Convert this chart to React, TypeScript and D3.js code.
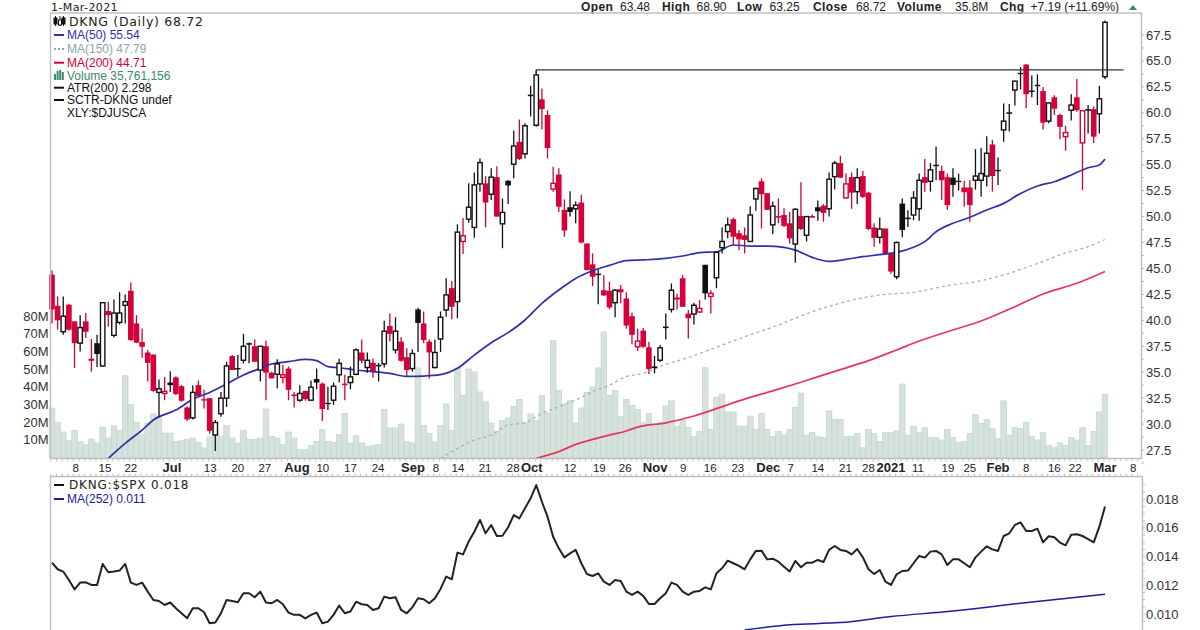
import * as d3 from "d3";

// daily candles, 2-Jun-2020 to 1-Mar-2021
const opens = [
  44.4,41.4,38.9,41.5,39.9,37.8,39.9,36.3,37.8,35.6,
  40.9,38.55,39.8,41.45,42.85,39.7,37.9,36.9,36.7,33.05,
  32.95,34.0,34.5,33.65,31.6,30.6,33.75,32.4,32.5,28.95,
  31.0,32.5,36.55,35.4,36.15,37.8,37.5,35.2,37.5,34.95,
  34.8,34.5,35.35,32.85,32.3,33.2,32.3,34.35,33.9,32.05,
  32.3,34.75,33.9,34.0,34.8,36.9,35.45,35.9,35.7,35.8,
  39.45,37.15,37.95,36.45,35.35,41.05,39.7,37.95,35.45,38.2,
  41.0,43.1,41.8,47.6,49.75,48.95,53.15,53.2,52.15,53.8,
  49.3,53.45,55.05,57.2,56.05,61.75,58.8,61.3,59.8,52.65,
  54.05,50.65,50.9,50.75,51.35,47.4,45.4,44.5,42.9,42.85,
  41.7,43.0,42.1,40.4,37.45,39.0,37.4,35.55,36.15,39.4,
  41.05,42.2,44.05,40.65,40.6,40.8,45.35,42.3,44.1,47.0,
  48.55,49.75,48.4,48.2,47.6,51.7,53.4,52.25,49.2,50.05,
  50.15,49.35,47.35,50.05,48.2,50.05,50.9,51.05,50.75,53.85,
  55.15,51.8,53.8,52.4,53.9,52.3,48.95,48.0,48.85,46.4,
  44.2,51.25,49.9,50.15,50.75,53.8,53.4,55.0,54.4,53.8,
  53.75,53.45,52.8,52.8,53.5,53.5,53.9,56.95,54.5,58.35,
  60.05,62.2,63.85,64.65,62.15,62.7,62.1,59.2,61.5,59.8,
  57.7,60.25,61.5,57.1,60.35,60.35,59.9,63.48,
];
const highs = [
  44.8,42.3,42.3,41.6,39.9,40.5,40.7,38.2,38.6,41.7,
  41.8,42.0,42.7,42.5,43.65,40.5,39.2,37.15,36.7,34.3,
  34.55,35.1,34.6,33.75,31.7,33.75,34.2,33.3,32.5,30.4,
  33.1,36.0,36.65,36.65,38.7,37.85,38.15,37.5,38.05,35.05,
  36.25,35.7,35.55,33.1,33.75,33.2,34.2,35.35,34.0,33.6,
  34.0,36.3,34.75,35.55,37.3,38.15,36.9,36.3,35.9,39.95,
  40.65,40.3,38.4,37.3,37.2,41.2,40.85,38.15,38.15,40.85,
  44.05,43.8,49.25,49.85,53.2,54.25,55.6,53.9,54.65,54.85,
  51.75,53.5,58.3,59.35,59.0,62.6,64.1,62.35,60.25,54.8,
  54.65,51.65,52.45,51.45,52.1,47.4,46.45,44.9,44.35,43.7,
  43.0,43.4,42.7,40.75,39.2,39.26,37.9,36.56,37.62,40.65,
  43.55,42.55,44.35,41.0,41.7,41.95,45.35,42.9,46.6,48.95,
  49.9,49.9,48.7,48.95,51.0,52.8,53.7,52.25,51.45,51.75,
  50.8,50.45,50.8,53.3,50.05,50.2,51.55,51.2,54.25,55.35,
  55.85,54.15,54.25,54.65,54.4,52.4,49.35,49.9,48.85,46.45,
  47.6,51.75,50.6,52.45,54.15,55.55,55.15,56.75,54.9,54.15,
  54.65,54.15,53.45,53.5,56.5,56.6,57.75,57.4,55.7,60.9,
  60.85,63.1,64.4,64.7,63.6,63.7,62.5,61.0,61.7,59.9,
  58.75,61.8,63.25,60.25,60.75,60.6,62.6,68.9,
];
const lows = [
  39.7,39.1,38.6,39.0,35.4,37.0,38.3,35.05,35.5,35.5,
  39.4,38.35,39.6,39.7,38.0,37.8,36.4,34.1,33.1,30.7,
  32.3,33.1,32.8,32.15,30.3,30.45,32.65,31.5,29.1,27.4,
  30.7,31.65,35.2,34.55,35.85,35.85,36.0,34.1,32.3,34.4,
  33.45,33.9,32.3,31.6,32.15,32.25,32.3,33.35,30.3,31.35,
  31.85,34.0,32.3,33.35,34.7,35.85,34.95,34.5,34.1,35.45,
  37.95,36.8,36.0,34.65,35.05,36.95,37.8,34.4,35.35,36.95,
  40.35,40.1,40.2,46.4,49.4,47.95,52.4,48.95,51.6,50.0,
  46.95,51.2,53.7,55.45,55.6,59.65,58.65,58.4,55.6,52.4,
  50.45,48.05,50.0,49.35,47.4,44.8,43.3,41.55,42.35,41.05,
  40.3,41.65,39.2,37.7,37.05,37.33,34.83,34.9,35.98,38.15,
  40.75,41.05,41.3,38.25,39.6,40.75,42.0,40.65,43.1,46.45,
  47.9,47.25,46.75,46.45,47.6,50.55,48.85,50.6,48.3,49.35,
  49.0,47.4,45.55,48.7,47.6,49.9,49.6,49.5,50.0,52.6,
  53.7,51.75,50.75,51.2,51.8,48.7,47.1,47.4,46.35,44.5,
  43.95,48.0,49.0,49.65,49.6,52.4,52.4,53.5,51.6,50.65,
  51.9,52.5,50.95,49.5,52.6,51.9,52.9,52.4,53.05,57.2,
  58.2,60.7,62.25,60.45,61.5,60.75,58.4,59.0,59.8,57.45,
  56.35,59.25,60.1,52.55,58.0,57.1,58.0,63.25,
];
const closes = [
  41.05,40.0,40.4,39.1,37.8,39.3,38.9,36.1,36.75,41.7,
  40.5,40.7,40.7,41.8,38.1,37.85,37.45,35.9,33.2,33.4,
  33.15,33.75,32.9,32.25,30.45,33.05,32.7,32.3,29.35,30.15,
  32.5,35.6,35.2,35.3,37.5,37.65,36.0,37.5,34.95,34.4,
  35.8,34.75,33.3,32.7,32.95,32.4,33.55,34.0,31.45,31.95,
  33.65,35.85,33.75,34.55,37.15,36.1,36.15,35.05,35.6,38.95,
  38.7,38.95,36.1,35.2,36.8,39.75,38.1,36.9,36.9,40.3,
  42.45,41.3,48.5,48.15,50.9,53.05,55.2,51.35,53.8,50.0,
  50.4,53.0,56.8,55.55,58.75,61.6,63.65,60.35,56.6,53.2,
  50.95,48.65,50.45,51.1,47.5,44.85,44.2,44.35,42.4,41.25,
  42.9,42.7,39.5,38.6,38.0,37.45,35.3,35.4,37.35,39.25,
  42.9,42.0,41.3,40.2,41.45,41.15,42.6,42.6,46.55,47.6,
  49.2,48.05,47.8,47.75,50.15,52.7,52.15,50.65,51.0,49.9,
  49.1,47.9,50.7,48.8,50.0,49.9,50.5,50.35,53.6,55.15,
  53.75,53.15,52.3,53.75,51.9,48.8,47.95,48.8,46.4,44.7,
  47.5,48.7,49.75,51.8,53.5,53.25,54.5,54.85,53.5,51.1,
  53.05,53.35,52.35,51.1,53.9,54.15,56.1,53.9,54.4,59.2,
  59.9,63.05,63.75,61.8,62.05,62.6,59.05,60.95,60.4,58.65,
  58.1,60.75,60.25,60.2,60.2,57.7,61.35,68.72,
];
// K = closed at or above the prior close, R = closed lower
const closeMarks = [
  "RRKRRKRRKK","RKKKRRRRRK","RKRRRKRRRK","KKRKKKRKRR","KRRRKRKKRK","KKRKKRKRKK",
  "RKRRKKRRKK","KRKRKKKRKR","KKKRKKKRRR","RRKKRRRKRR","KRRRRRRKKK","KRRRKRKRKK",
  "KRRRKKRRKR","RRKRKRKRKK","RRRKRRRKRR","KKKKKRKKRR","KKRRKKKRKK","KKKRKKRKRR",
  "RKRRKRKK",
].join("");
// millions of shares
const volumes = [
  28,20,14.5,9.6,15.3,9,7.3,10.5,8.3,17.3,
  11.1,18,15.3,46.3,30,20,13,19.6,24.7,23,
  13.9,13.9,9.2,9.6,10.2,11.1,8.7,5.5,11.7,14.9,
  12.1,18.3,11.1,8.3,15.3,10.5,10.2,11.1,27.5,12.1,
  11.1,7.3,14.5,11.1,4.5,4.5,6.8,9.2,15.8,9.2,
  8.7,13,24.9,8.3,12.4,8.3,6.4,6.8,7.3,27.1,
  16.8,16.8,19,9,8.3,50.7,18.1,13.6,9,18.1,
  30.3,15.3,50.7,35.2,50.1,48.4,37.1,31.5,19.6,14.9,
  20.9,22.4,29,32.8,19.6,24.7,20.9,35,25.2,66.1,
  37.9,30.3,32.4,19.6,28.1,36.9,39.9,50.7,71,35.2,
  38,23.4,32.8,29.6,27.1,19.7,25,17.8,19.7,29.2,
  32.1,17.8,21.2,17,12.1,14.9,50.8,15.9,34.2,35.9,
  25.8,25.8,17.8,17.8,23.5,15.9,25,15.9,12.1,14.9,
  12.8,15.9,28.5,36.5,12.8,14.3,12.1,11.3,26.4,21.6,
  21.6,12.1,12.1,13.6,5.6,15.9,13.6,9.2,14.3,14.3,
  15.1,41.6,12.8,17.8,14.3,17,11.3,11.3,10,15.9,
  11.3,8.4,9.2,13.6,24.3,19.3,21.6,16.4,10.7,32.1,
  12.8,17,16.4,19.9,12.1,10,14.3,6.9,5.6,8.4,
  6.9,11.3,10,17,6.9,14.9,25.8,35.8,
];

const ma50Days = [10,13,16,18,22,25,28,31,34,37,39,42,45,47,49,51,54,57,60,63,66,69,72,75,78,81,84,87,90,93,96,99,102,105,109,112,115,118,121,124,127,130,132,135,138,141,144,147,150,153,155,157,160,163,166,169,172,175,178,181,184,186,187];
const ma50 = [26.7,28.14,29.42,30.39,31.35,32.38,33.05,33.86,34.73,35.37,35.79,36.01,36.24,36.11,35.53,35.43,35.21,35.05,34.88,34.6,34.63,34.76,35.37,36.65,37.84,38.81,40.03,41.63,42.92,44.04,44.78,45.3,45.75,45.82,45.97,46.2,46.52,46.61,47.26,47.16,47.16,47.03,46.77,46.07,45.68,45.87,46.13,46.33,46.55,47.04,47.58,48.54,49.35,49.93,50.63,51.27,52.23,52.95,53.36,54.0,54.71,54.97,55.54];
const ma150Days = [69,72,75,78,81,84,87,90,93,96,99,102,105,109,113,117,123,129,135,141,144,147,153,159,165,169,174,180,184,187];
const ma150 = [26.69,27.66,28.46,28.94,29.91,30.13,31.03,31.67,32.32,33.12,33.76,34.57,34.89,35.76,36.4,37.2,38.42,39.54,40.83,41.79,42.18,42.44,42.7,43.34,43.82,44.37,45.27,46.49,47.1,47.79];
const ma200Days = [86,90,93,96,99,102,104,109,114,118,123,128,133,139,145,150,154,159,165,171,176,182,187];
const ma200 = [26.69,27.34,28.04,28.52,28.94,29.33,29.7,30.12,30.78,31.49,32.4,33.2,34.03,35.08,36.11,37.14,38.0,38.9,39.93,41.31,42.54,43.57,44.71];

// DKNG:$SPX ratio, one value a day
const ratio = [
  .01358,.01312,.01296,.01237,.01172,.01219,.01221,.01203,.01203,.01349,
  .01291,.01296,.01303,.01349,.01219,.01203,.01219,.01156,.01098,.01091,
  .01063,.0108,.0104,.01005,.0097,.0104,.0104,.01012,.00935,.0094,
  .01005,.01098,.01091,.01082,.01145,.01145,.01117,.01156,.0108,.01075,
  .01098,.01068,.0101,.00994,.00994,.0097,.00994,.0101,.00935,.00947,
  .00994,.01059,.01005,.01017,.01086,.01068,.01063,.01028,.0104,.01121,
  .0111,.01117,.01028,.01005,.01047,.0111,.01103,.01075,.0111,.01175,
  .01261,.01242,.01428,.01416,.01505,.01574,.01656,.01563,.01621,.01544,
  .01546,.01605,.0169,.01667,.01737,.01807,.01899,.01783,.01679,.01539,
  .01458,.01395,.01423,.01447,.01354,.01279,.01265,.01284,.01226,.01203,
  .01237,.0123,.01156,.01133,.01156,.01126,.0107,.0107,.0111,.01145,
  .01219,.01203,.01156,.01133,.01156,.01161,.01186,.01172,.01284,.01319,
  .01372,.01354,.01335,.01312,.01381,.0144,.01442,.01381,.01386,.01365,
  .0133,.01296,.0137,.01326,.01358,.01358,.01377,.01363,.01447,.01474,
  .01447,.0144,.01416,.01453,.01395,.01312,.01279,.01307,.01226,.01203,
  .01277,.013,.01303,.01354,.01405,.01393,.01435,.0144,.01416,.01342,
  .01381,.01381,.01354,.01326,.01395,.01435,.01472,.01451,.0144,.01544,
  .01563,.01621,.01639,.01579,.01579,.01595,.015,.01542,.01535,.01498,
  .01479,.01553,.01556,.01544,.01523,.015,.01609,.01749,
];
const ma252Days = [123,131,140,149,160,172,187];
const ma252 = [.00889,.00925,.0094,.00982,.01021,.01075,.01138];

const resistance = 64.13;
const resistanceDays = [86, 190.3];

const priceTicks = [27.5,30,32.5,35,37.5,40,42.5,45,47.5,50,52.5,55,57.5,60,62.5,65,67.5];
const volumeTicks = [10,20,30,40,50,60,70,80];
const ratioTicks = [0.01,0.012,0.014,0.016,0.018];
const ratioMinorTicks = d3.range(0.0095, 0.0195, 0.0005);
const priceMinorTicks = d3.range(26.25, 68.75, 1.25);

const xTickLabels = ["8","15","22","Jul","13","20","27","Aug","10","17","24","Sep","8","14","21","28","Oct","12","19","26","Nov","9","16","23","Dec","7","14","21","28","2021","11","19","25","Feb","8","16","22","Mar","8"];
const xTickDays = [4.2,9.4,14,21.3,28.1,33,37.8,43.5,48.1,53,57.9,64.1,68.2,72.1,76.9,81.9,85.2,92,97.2,101.8,107.1,112.1,116.9,121.8,127.2,131.2,136,140.9,145,149,153.8,159.1,163,168,173,178,181.7,187,192];
const boldLabels = new Set(["Jul","Aug","Sep","Oct","Nov","Dec","2021","Feb","Mar"]);

const headerLabels = ["Open","High","Low","Close","Volume","Chg"];
const headerValues = ["63.48","68.90","63.25","68.72","35.8M","+7.19 (+11.69%)"];

const RED = "#d5003a";
const BLACK = "#111";
const BLUE = "#3030ac";
const SANS = "'Liberation Sans', Arial, sans-serif";
const VERDANA = "'DejaVu Sans', Verdana, sans-serif";

const x = d3.scaleLinear().domain([0, 187]).range([52, 1105]);
const y = d3.scaleLinear().domain([67.5, 27.5]).range([35, 450]);
const yVol = d3.scaleLinear().domain([0, 80]).range([457.7, 316]);
const yRatio = d3.scaleLinear().domain([0.018, 0.01]).range([499.3, 614]);

const maLine = (days: number[], values: number[], scale: d3.ScaleLinear<number, number>) =>
  d3
    .line<number>()
    .x((d) => x(d))
    .y((_, i) => scale(values[i]))
    .curve(d3.curveMonotoneX)(days) as string;

const Candle = ({ i }: { i: number }) => {
  const up = closes[i] > opens[i];
  const color = closeMarks[i] === "K" ? BLACK : RED;
  const top = y(Math.max(opens[i], closes[i]));
  const h = Math.max(y(Math.min(opens[i], closes[i])) - top, 1.4);
  return (
    <g>
      <line x1={x(i)} x2={x(i)} y1={y(highs[i])} y2={y(lows[i])} stroke={color} strokeWidth={1.3} />
      {up ? (
        <rect x={x(i) - 2.2} width={4.4} y={top} height={h} fill="#fff" stroke={color} strokeWidth={1.4} />
      ) : (
        <rect x={x(i) - 2.8} width={5.6} y={top} height={h} fill={color} />
      )}
    </g>
  );
};

const LegendLine = ({ cy, text, color, dash }: { cy: number; text: string; color: string; dash?: string }) => (
  <g>
    <line x1={54} x2={64} y1={cy} y2={cy} stroke={color} strokeWidth={2} strokeDasharray={dash} />
    <text x={67} y={cy + 4} fontFamily={SANS} fontSize={12} fill={color}>{text}</text>
  </g>
);

export default function App() {
  const days = d3.range(opens.length);
  const redDays = days.filter((d) => closeMarks[d] !== "K");
  const blackDays = days.filter((d) => closeMarks[d] === "K");
  const ratioPath = d3
    .line<number>()
    .x((_, i) => x(i))
    .y((d) => yRatio(d))(ratio) as string;

  return (
    <svg
      width={1200}
      height={630}
      viewBox="0 0 1200 630"
      style={{ position: "absolute", left: 0, top: 0, background: "#fff" }}
    >
      {/* header */}
      <text x={51} y={10.5} fontFamily={VERDANA} fontSize={11} letterSpacing={0.4} fill="#222">1-Mar-2021</text>
      {headerLabels.map((label, i) => (
        <g key={label} fontFamily={SANS} fontSize={12} fill="#222">
          <text x={[581, 662, 737, 813, 897, 1000][i]} y={11} fontWeight="bold" letterSpacing={0.4}>{label}</text>
          <text x={[620, 696.5, 769.6, 856, 955, 1030.6][i]} y={11}>{headerValues[i]}</text>
        </g>
      ))}
      <path d="M1129 10 L1137 10 L1133 5 Z" fill="#3d8a66" />

      {/* volume */}
      <g>
        {days.map((d) => (
          <rect
            key={d}
            x={x(d) - 2.8}
            width={5.6}
            y={yVol(volumes[d])}
            height={yVol(0) - yVol(volumes[d])}
            fill="#d6e3dc"
            stroke="#c3d5cb"
            strokeWidth={0.7}
          />
        ))}
      </g>

      {/* red candles sit under the averages, black ones over */}
      {redDays.map((d) => <Candle key={d} i={d} />)}
      <path d={maLine(ma150Days, ma150, y)} fill="none" stroke="#a3b1bc" strokeWidth={1.3} strokeDasharray="3 3" />
      <path d={maLine(ma200Days, ma200, y)} fill="none" stroke="#e6365f" strokeWidth={1.7} />
      <path d={maLine(ma50Days, ma50, y)} fill="none" stroke={BLUE} strokeWidth={1.7} />
      {blackDays.map((d) => <Candle key={d} i={d} />)}

      {/* resistance line */}
      <path
        d={`M${x(resistanceDays[0])} ${y(resistance) + 4} V${y(resistance)} H${x(resistanceDays[1])}`}
        fill="none"
        stroke="#333"
        strokeWidth={1.3}
      />

      {/* panel frames */}
      <rect x={50.5} y={13} width={1091} height={445.5} fill="none" stroke="#bdbdbd" strokeWidth={1.4} />
      <path d="M50.5 630 V476.5 H1142.5 V630" fill="none" stroke="#bdbdbd" strokeWidth={1.4} />

      {/* right axis */}
      {priceMinorTicks.map((t) => (
        <line key={t} x1={1141.5} x2={1144} y1={y(t)} y2={y(t)} stroke="#bbb" />
      ))}
      {priceTicks.map((t) => (
        <text key={t} x={1146} y={y(t) + 4.5} fontFamily={SANS} fontSize={13} fill="#333">{t.toFixed(1)}</text>
      ))}
      {volumeTicks.map((t) => (
        <text key={t} x={48.5} y={yVol(t) + 4.5} textAnchor="end" fontFamily={SANS} fontSize={13} fill="#333">{t}M</text>
      ))}

      {/* x axis strip */}
      {d3.range(-0.2, 193).map((d) => (
        <g key={d} stroke="#c4c4c4">
          <line x1={x(d)} x2={x(d)} y1={459} y2={461.5} />
          <line x1={x(d)} x2={x(d)} y1={473.5} y2={476} />
        </g>
      ))}
      {xTickLabels.map((label, i) => {
        const bold = boldLabels.has(label);
        return (
          <text
            key={i}
            x={x(xTickDays[i])}
            y={472}
            textAnchor="middle"
            fontFamily={SANS}
            fontSize={bold ? 13 : 11.5}
            fontWeight={bold ? "bold" : "normal"}
            fill="#222"
          >
            {label}
          </text>
        );
      })}

      {/* main legend */}
      <g fill="#111" stroke="#111">
        <line x1={55.5} x2={55.5} y1={16} y2={26} />
        <rect x={54} y={18} width={3} height={6} />
        <line x1={60} x2={60} y1={16} y2={26} />
        <rect x={58.5} y={20} width={3} height={5} fill="#fff" />
        <line x1={63.5} x2={63.5} y1={16} y2={26} />
        <rect x={62} y={18} width={3} height={6} />
      </g>
      <text x={69} y={26} fontFamily={VERDANA} fontSize={12.5} letterSpacing={0.7} fill="#222">DKNG (Daily) 68.72</text>
      <LegendLine cy={35} text="MA(50) 55.54" color={BLUE} />
      <LegendLine cy={49} text="MA(150) 47.79" color="#93a1ab" dash="2 2" />
      <LegendLine cy={62.7} text="MA(200) 44.71" color="#d5003a" />
      <g fill="#3d8a66">
        {[0, 1, 2, 3].map((k) => (
          <rect key={k} x={54 + k * 2.6} y={[74, 71, 70, 72][k]} width={2} height={80 - [74, 71, 70, 72][k]} />
        ))}
      </g>
      <text x={67} y={79.7} fontFamily={SANS} fontSize={12} fill="#3d8a66">Volume 35,761,156</text>
      <LegendLine cy={87.7} text="ATR(200) 2.298" color="#111" />
      <LegendLine cy={100} text="SCTR-DKNG undef" color="#111" />
      <text x={67} y={116.7} fontFamily={SANS} fontSize={12} fill="#111">XLY:$DJUSCA</text>

      {/* ratio panel */}
      <path d={maLine(ma252Days, ma252, yRatio)} fill="none" stroke="#1c1ca0" strokeWidth={1.5} />
      <path d={ratioPath} fill="none" stroke="#222" strokeWidth={2} strokeLinejoin="round" />
      {ratioMinorTicks.map((t) => (
        <line key={t} x1={1142.5} x2={1145} y1={yRatio(t)} y2={yRatio(t)} stroke="#bbb" />
      ))}
      {ratioTicks.map((t) => (
        <text key={t} x={1146} y={yRatio(t) + 4.5} fontFamily={SANS} fontSize={13} fill="#333">{t.toFixed(3)}</text>
      ))}
      <line x1={54} x2={64} y1={485} y2={485} stroke="#111" strokeWidth={2} />
      <text x={69} y={489} fontFamily={VERDANA} fontSize={12} letterSpacing={0.8} fill="#222">DKNG:$SPX 0.018</text>
      <line x1={54} x2={64} y1={499} y2={499} stroke="#1c1ca0" strokeWidth={2} />
      <text x={67} y={503} fontFamily={SANS} fontSize={12} fill="#1c1ca0">MA(252) 0.011</text>
    </svg>
  );
}
